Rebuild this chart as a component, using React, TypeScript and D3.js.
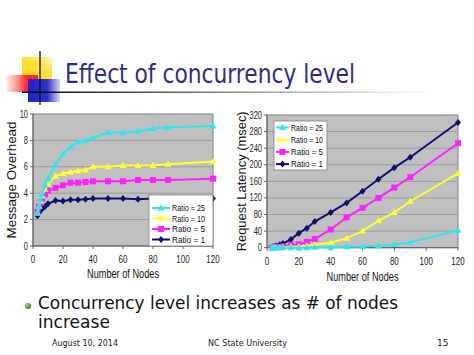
import React from "react";
import * as d3 from "d3";

const seriesNames = ["Ratio = 25", "Ratio = 10", "Ratio = 5", "Ratio = 1"];
const seriesColors = ["#2ee6ee", "#ffff30", "#ff20ff", "#101070"];
const seriesMarkers = ["triangle", "triangle", "square", "diamond"];

const leftNodes = [3, 4, 5, 6, 8, 10, 15, 20, 25, 30, 35, 40, 50, 60, 70, 80, 90, 120];
const leftR25 = [2.5, 3.0, 3.5, 3.9, 4.6, 5.1, 6.2, 7.0, 7.5, 7.9, 8.0, 8.2, 8.6, 8.6, 8.7, 8.9, 9.0, 9.1];
const leftR10 = [2.5, 3.0, 3.4, 3.8, 4.3, 4.7, 5.3, 5.5, 5.6, 5.7, 5.75, 6.0, 6.0, 6.1, 6.1, 6.1, 6.2, 6.4];
const leftR5 = [2.6, 3.0, 3.3, 3.6, 3.9, 4.2, 4.4, 4.6, 4.8, 4.8, 4.85, 4.9, 4.9, 4.9, 5.0, 5.0, 5.0, 5.1];
const leftR1 = [2.3, 2.5, 2.7, 2.8, 3.0, 3.2, 3.45, 3.4, 3.5, 3.5, 3.55, 3.6, 3.6, 3.6, 3.55, 3.6, 3.55, 3.6];

const rightNodes = [3, 4, 5, 6, 8, 10, 15, 20, 25, 30, 40, 50, 60, 70, 80, 90, 120];
const rightR25 = [0, 0, 0, 0, 0, 0, 0, 0, 0, 1, 1, 2, 3, 5, 8, 13, 42];
const rightR10 = [0, 0, 0, 0, 0, 1, 2, 3, 5, 7, 12, 23, 40, 65, 85, 112, 179];
const rightR5 = [0, 0, 1, 1, 2, 3, 6, 8, 14, 21, 44, 73, 96, 120, 145, 170, 252];
const rightR1 = [1, 2, 3, 4, 7, 10, 20, 35, 47, 63, 85, 108, 136, 165, 193, 218, 302];

const xTicks = [0, 20, 40, 60, 80, 100, 120];
const leftYTicks = [0, 2, 4, 6, 8, 10];
const rightYTicks = [0, 40, 80, 120, 160, 200, 240, 280, 320];

const FONT = "'Liberation Sans', Arial, sans-serif";

function Marker({ type, x, y, color, s = 3 }: any) {
  if (type === "square")
    return <rect x={x - s} y={y - s} width={2 * s} height={2 * s} fill={color} />;
  if (type === "diamond")
    return <path d={`M${x},${y - s - 0.5}L${x + s},${y}L${x},${y + s + 0.5}L${x - s},${y}Z`} fill={color} />;
  return <path d={`M${x},${y - s - 0.5}L${x + s + 0.5},${y + s - 0.5}L${x - s - 0.5},${y + s - 0.5}Z`} fill={color} />;
}

function Chart({ nodes, series, yTicks, yMax, x0, x1, y0, y1, yLabel, yLabelX, yLabelLen, xLabelY, legend }: any) {
  const x = d3.scaleLinear().domain([0, 120]).range([x0, x1]);
  const y = d3.scaleLinear().domain([0, yMax]).range([y1, y0]);
  const line = d3
    .line<[number, number]>()
    .x((d) => x(d[0]))
    .y((d) => y(d[1]));
  const order = [3, 2, 1, 0];
  return (
    <g>
      <rect x={x0} y={y0} width={x1 - x0} height={y1 - y0} fill="#c0c0c0" stroke="#808080" strokeWidth={1} />
      {yTicks.slice(1, -1).map((t: number) => (
        <line key={t} x1={x0} x2={x1} y1={y(t)} y2={y(t)} stroke="#9c9c9c" strokeWidth={1} />
      ))}
      <line x1={x0} x2={x0} y1={y0} y2={y1} stroke="#606060" />
      <line x1={x0} x2={x1} y1={y1} y2={y1} stroke="#606060" />
      {yTicks.map((t: number) => (
        <g key={t}>
          <line x1={x0 - 3} x2={x0} y1={y(t)} y2={y(t)} stroke="#606060" />
          <text
            transform={`translate(${x0 - 5},${y(t) + 3.5}) scale(0.75,1)`}
            textAnchor="end"
            fontFamily={FONT}
            fontSize={10}
            fill="#222"
          >
            {t}
          </text>
        </g>
      ))}
      {xTicks.map((t) => (
        <g key={t}>
          <line x1={x(t)} x2={x(t)} y1={y1} y2={y1 + 3} stroke="#606060" />
          <text
            transform={`translate(${x(t)},${y1 + 17}) scale(0.8,1)`}
            textAnchor="middle"
            fontFamily={FONT}
            fontSize={10}
            fill="#222"
          >
            {t}
          </text>
        </g>
      ))}
      {order.map((i) => {
        const pts: [number, number][] = nodes.map((n: number, k: number) => [n, series[i][k]]);
        return (
          <g key={i}>
            <path d={line(pts) || ""} fill="none" stroke={seriesColors[i]} strokeWidth={2} />
            {pts.map((p, k) => (
              <Marker key={k} type={seriesMarkers[i]} x={x(p[0])} y={y(p[1])} color={seriesColors[i]} />
            ))}
          </g>
        );
      })}
      <rect x={legend.x} y={legend.y} width={legend.w} height={legend.h} fill="#fff" stroke="#808080" strokeWidth={0.8} />
      {seriesNames.map((nm, i) => {
        const ly = legend.y + legend.pad + i * legend.step;
        return (
          <g key={nm}>
            <line x1={legend.lx0} x2={legend.lx1} y1={ly} y2={ly} stroke={seriesColors[i]} strokeWidth={2} />
            <Marker type={seriesMarkers[i]} x={(legend.lx0 + legend.lx1) / 2} y={ly} color={seriesColors[i]} />
            <text
              x={legend.tx}
              y={ly + 3.2}
              fontFamily={FONT}
              fontSize={9}
              textLength={legend.tl}
              lengthAdjust="spacingAndGlyphs"
              fill="#111"
            >
              {nm}
            </text>
          </g>
        );
      })}
      <text
        transform={`translate(${yLabelX},${(y0 + y1) / 2}) rotate(-90)`}
        textAnchor="middle"
        fontFamily={FONT}
        fontSize={12}
        textLength={yLabelLen}
        lengthAdjust="spacingAndGlyphs"
        fill="#111"
      >
        {yLabel}
      </text>
      <text
        x={(x0 + x1) / 2}
        y={xLabelY}
        textAnchor="middle"
        fontFamily={FONT}
        fontSize={13}
        textLength={72}
        lengthAdjust="spacingAndGlyphs"
        fill="#111"
      >
        Number of Nodes
      </text>
    </g>
  );
}

export default function App() {
  return (
    <svg
      width={474}
      height={355}
      style={{ position: "absolute", left: 0, top: 0, background: "#fff" }}
    >
      <defs>
        <linearGradient id="yel" x1="0" x2="1" y1="1" y2="0">
          <stop offset="0" stopColor="#ffd800" />
          <stop offset="0.6" stopColor="#ffe040" />
          <stop offset="1" stopColor="#fff6c0" />
        </linearGradient>
        <linearGradient id="red" x1="0" x2="1" y1="0" y2="0">
          <stop offset="0" stopColor="#ffd0d0" stopOpacity={0.6} />
          <stop offset="0.6" stopColor="#ff3030" />
          <stop offset="1" stopColor="#ff2020" />
        </linearGradient>
        <linearGradient id="blu" x1="0" x2="1" y1="0" y2="0">
          <stop offset="0" stopColor="#2020d0" />
          <stop offset="0.6" stopColor="#3030c8" />
          <stop offset="1" stopColor="#d8d8f8" />
        </linearGradient>
        <linearGradient id="hline" x1="0" x2="1" y1="0" y2="0">
          <stop offset="0" stopColor="#000" />
          <stop offset="0.5" stopColor="#888" />
          <stop offset="1" stopColor="#fff" />
        </linearGradient>
        <radialGradient id="bul" cx="0.35" cy="0.35" r="0.7">
          <stop offset="0" stopColor="#a8e070" />
          <stop offset="1" stopColor="#2a7a20" />
        </radialGradient>
      </defs>
      <rect x={22} y={57} width={30} height={22} fill="url(#yel)" />
      <rect x={7} y={75} width={31} height={17} fill="url(#red)" />
      <rect x={28} y={79} width={32} height={23} fill="url(#blu)" />
      <line x1={40} x2={40} y1={51} y2={105} stroke="#111" strokeWidth={1.3} />
      <rect x={22} y={91.5} width={410} height={1.5} fill="url(#hline)" />
      <text
        x={65}
        y={83}
        fontFamily="'DejaVu Sans', Tahoma, sans-serif"
        fontSize={26}
        textLength={290}
        lengthAdjust="spacingAndGlyphs"
        fill="#2b2d8a"
      >
        Effect of concurrency level
      </text>

      <Chart
        nodes={leftNodes}
        series={[leftR25, leftR10, leftR5, leftR1]}
        yTicks={leftYTicks}
        yMax={10}
        x0={33}
        x1={213}
        y0={114}
        y1={246}
        yLabel="Message Overhead"
        yLabelX={16}
        yLabelLen={117}
        xLabelY={278}
        legend={{ x: 149, y: 195, w: 64, h: 51, pad: 13, step: 10.5, lx0: 152, lx1: 170, tx: 172, tl: 33 }}
      />
      <Chart
        nodes={rightNodes}
        series={[rightR25, rightR10, rightR5, rightR1]}
        yTicks={rightYTicks}
        yMax={320}
        x0={267}
        x1={458}
        y0={115}
        y1={247.7}
        yLabel="Request Latency (msec)"
        yLabelX={246}
        yLabelLen={140}
        xLabelY={281}
        legend={{ x: 274, y: 121, w: 53, h: 49, pad: 6.5, step: 12.2, lx0: 276, lx1: 289, tx: 291, tl: 32 }}
      />

      <circle cx={28} cy={306} r={3} fill="url(#bul)" />
      <text
        x={38}
        y={309}
        fontFamily="'DejaVu Sans', sans-serif"
        fontSize={17}
        textLength={360}
        lengthAdjust="spacingAndGlyphs"
        fill="#111"
      >
        Concurrency level increases as # of nodes
      </text>
      <text
        x={38}
        y={328}
        fontFamily="'DejaVu Sans', sans-serif"
        fontSize={17}
        textLength={72}
        lengthAdjust="spacingAndGlyphs"
        fill="#111"
      >
        increase
      </text>
      <text x={52} y={346} fontFamily="'DejaVu Sans', sans-serif" fontSize={9} textLength={66} lengthAdjust="spacingAndGlyphs" fill="#222">
        August 10, 2014
      </text>
      <text x={208} y={346} fontFamily="'DejaVu Sans', sans-serif" fontSize={9} textLength={79} lengthAdjust="spacingAndGlyphs" fill="#222">
        NC State University
      </text>
      <text x={437} y={346} fontFamily="'DejaVu Sans', sans-serif" fontSize={9} fill="#222">
        15
      </text>
    </svg>
  );
}
